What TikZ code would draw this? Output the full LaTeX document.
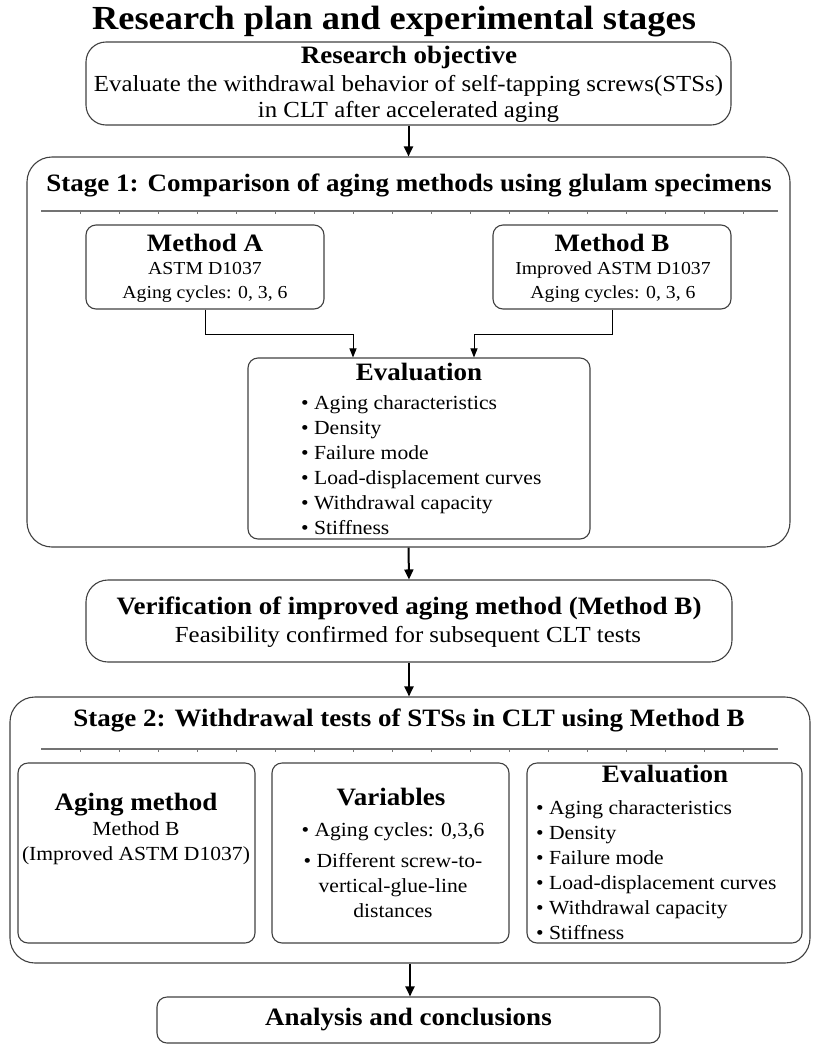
\documentclass[tikz,border=0pt]{standalone}
\usepackage{fontspec}
\setmainfont{Liberation Serif}[FakeStretch=1.08]
\usetikzlibrary{arrows.meta,fit}

\begin{document}
\begin{tikzpicture}[x=1pt,y=-1pt]
\tikzstyle{BoxStyle}=[draw=black!75, line width=1.1pt, rounded corners=10pt, inner sep=0pt]
\tikzstyle{StageStyle}=[BoxStyle, rounded corners=25pt]
\tikzstyle{TitleStyle}=[font=\bfseries\fontsize{33.7}{40}\selectfont, inner sep=0pt]
\tikzstyle{HeadStyle}=[font=\bfseries\fontsize{25}{30}\selectfont, inner sep=0pt]
\tikzstyle{TextStyle}=[font=\fontsize{23}{26}\selectfont, align=center, inner sep=0pt]
\tikzstyle{SmallStyle}=[font=\fontsize{18.3}{24}\selectfont, align=center, inner sep=0pt]
\tikzstyle{ListStyle}=[font=\fontsize{20}{25}\selectfont, align=left, inner sep=0pt]
\tikzstyle{MainArrow}=[line width=2pt, -{Triangle[length=10pt,width=9pt]}]
\tikzstyle{SubArrow}=[line width=1pt, -{Triangle[length=9pt,width=7pt]}]
\tikzstyle{RuleStyle}=[draw=black!55, line width=1.2pt]
\useasboundingbox (0,0) rectangle (816,1050);

% boxes
\node[BoxStyle, rounded corners=20pt, fit={(86,42) (731,125)}] (obj) {};
\node[StageStyle, fit={(27,157) (790,547)}] (stage1) {};
\node[BoxStyle, fit={(86,225) (324,309)}] (methA) {};
\node[BoxStyle, fit={(493,225) (731,309)}] (methB) {};
\node[BoxStyle, fit={(248,358) (590,539)}] (eval1) {};
\node[BoxStyle, rounded corners=22pt, fit={(86,580) (732,662)}] (verif) {};
\node[StageStyle, fit={(10,697) (810,963)}] (stage2) {};
\node[BoxStyle, fit={(18,763) (255,943)}] (aging) {};
\node[BoxStyle, fit={(272,763) (509,943)}] (vars) {};
\node[BoxStyle, fit={(527,763) (802,943)}] (eval2) {};
\node[BoxStyle, fit={(157,997) (660,1043)}] (concl) {};

% texts
\node[TitleStyle] (ttl) at (394,22) {Research plan and experimental stages};
\node[HeadStyle] (objhd) at (409,57) {Research objective};
\node[TextStyle] (objtx) at (408.5,99) {Evaluate the withdrawal behavior of self-tapping screws(STSs)\\in CLT after accelerated aging};
\node[HeadStyle] (s1hd) at (409,185) {Stage 1: Comparison of aging methods using glulam specimens};
\node[HeadStyle] (mahd) at (205,243) {Method A};
\node[SmallStyle] (matx) at (205,282) {ASTM D1037\\Aging cycles: 0, 3, 6};
\node[HeadStyle] (mbhd) at (612,243) {Method B};
\node[SmallStyle] (mbtx) at (613,282) {Improved ASTM D1037\\Aging cycles: 0, 3, 6};
\node[HeadStyle] (e1hd) at (419,372) {Evaluation};
\node[ListStyle, anchor=west] (e1ls) at (301,465.5) {• Aging characteristics\\• Density\\• Failure mode\\• Load-displacement curves\\• Withdrawal capacity\\• Stiffness};
\node[HeadStyle] (vfhd) at (409,608) {Verification of improved aging method (Method B)};
\node[TextStyle] (vftx) at (408,637) {Feasibility confirmed for subsequent CLT tests};
\node[HeadStyle] (s2hd) at (409,720) {Stage 2: Withdrawal tests of STSs in CLT using Method B};
\node[HeadStyle] (aghd) at (136,805) {Aging method};
\node[ListStyle, align=center] (agtx) at (136,843.5) {Method B\\(Improved ASTM D1037)};
\node[HeadStyle] (vahd) at (391,797) {Variables};
\node[ListStyle, align=center] (vatx) at (393,870) {• Aging cycles: 0,3,6\\[6pt]• Different screw-to-\\vertical-glue-line\\distances};
\node[HeadStyle] (e2hd) at (665,774) {Evaluation};
\node[ListStyle, anchor=west] (e2ls) at (536,870) {• Aging characteristics\\• Density\\• Failure mode\\• Load-displacement curves\\• Withdrawal capacity\\• Stiffness};
\node[HeadStyle] (cchd) at (408.5,1020) {Analysis and conclusions};

% rules under the stage titles
\foreach \y in {211,749} {
  \draw[RuleStyle] (41,\y) -- (778,\y);
  \foreach \x in {80,119,...,760}
    \draw[RuleStyle, line width=0.8pt] (\x,\y) -- ++(0,2.5);
}

% arrows
\draw[MainArrow] (obj.south) -- (stage1.north);
\draw[MainArrow] (stage1.south) -- (verif.north);
\draw[MainArrow] (verif.south) -- (verif.south |- stage2.north);
\draw[MainArrow] (stage2.south) -- (stage2.south |- concl.north);
\draw[SubArrow] (methA.south) -- ++(0,25) -| ([xshift=-66pt]eval1.north);
\draw[SubArrow] (methB.south) -- ++(0,25) -| ([xshift=55pt]eval1.north);
\end{tikzpicture}
\end{document}
